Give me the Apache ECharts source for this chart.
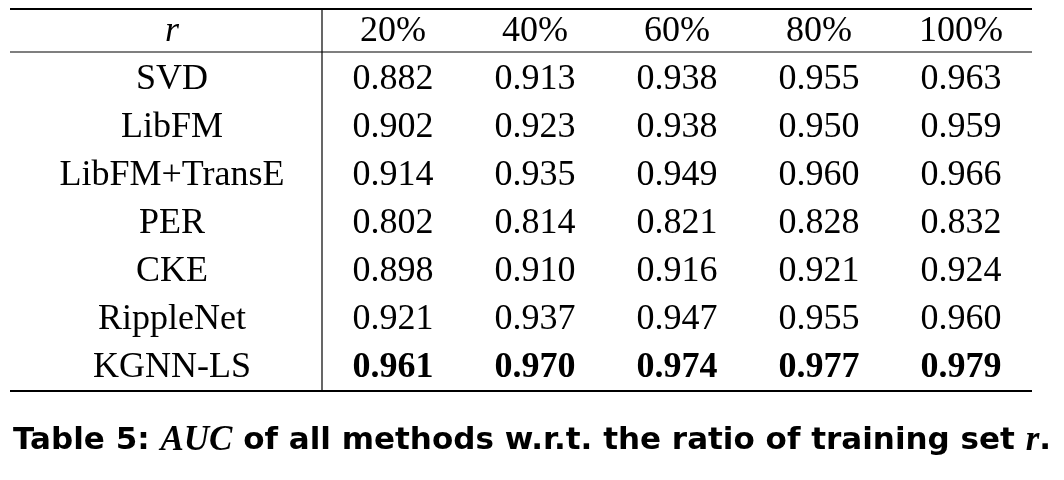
<!DOCTYPE html>
<html><head><meta charset="utf-8">
<script src="https://cdn.jsdelivr.net/npm/echarts@6/dist/echarts.min.js"></script>
<style>html,body{margin:0;background:#fff}#c{width:1064px;height:480px}</style>
</head><body><div id="c"></div>
<script>
const header = ['r', '20%', '40%', '60%', '80%', '100%'];
const methods = ['SVD', 'LibFM', 'LibFM+TransE', 'PER', 'CKE', 'RippleNet', 'KGNN-LS'];
const values = [
  ['0.882', '0.913', '0.938', '0.955', '0.963'],
  ['0.902', '0.923', '0.938', '0.950', '0.959'],
  ['0.914', '0.935', '0.949', '0.960', '0.966'],
  ['0.802', '0.814', '0.821', '0.828', '0.832'],
  ['0.898', '0.910', '0.916', '0.921', '0.924'],
  ['0.921', '0.937', '0.947', '0.955', '0.960'],
  ['0.961', '0.970', '0.974', '0.977', '0.979']
];
const boldRow = 'KGNN-LS';

const rowCats = ['header'].concat(methods);
const colOffsets = [162, 383, 525, 667, 809, 951];
const FONT = '"Liberation Serif", "DejaVu Serif", serif';

const data = [];
for (let r = 0; r < rowCats.length; r++)
  for (let c = 0; c < header.length; c++) data.push([c, rowCats[r]]);

function cellText(c, r) {
  if (r === 0) return header[c];
  return c === 0 ? methods[r - 1] : values[r - 1][c - 1];
}

const chart = echarts.init(document.getElementById('c'));
chart.setOption({
  backgroundColor: '#fff',
  animation: false,
  grid: { left: 10, right: 32, top: 8, bottom: 88 },
  xAxis: { type: 'value', min: 0, max: 1, show: false },
  yAxis: { type: 'category', data: rowCats, inverse: true, show: false },
  title: {
    left: 'center', top: 418,
    text: '{b|Table 5: }{i|AUC}{b| of all methods w.r.t. the ratio of training set }{i|r}{b|.}',
    textStyle: {
      rich: {
        b: { fontFamily: '"DejaVu Sans", sans-serif', fontWeight: 'bold', fontSize: 31, color: '#000' },
        i: { fontFamily: FONT, fontStyle: 'italic', fontSize: 35, color: '#000' }
      }
    }
  },
  series: [{
    type: 'custom',
    data: data,
    renderItem: function (params, api) {
      const c = api.value(0);
      const rIdx = params.dataIndex / header.length | 0;
      const cs = params.coordSys;
      const y = api.coord([0, api.value(1)])[1];
      const band = api.size([0, 1])[1];
      const children = [{
        type: 'text',
        style: {
          x: cs.x + colOffsets[c], y: y,
          text: cellText(c, rIdx),
          textAlign: 'center', textVerticalAlign: 'middle',
          font: ((rIdx > 0 && methods[rIdx - 1] === boldRow && c > 0) ? 'bold ' : '') +
                ((rIdx === 0 && c === 0) ? 'italic ' : '') + '36px ' + FONT,
          fill: '#000'
        }
      }];
      if (params.dataIndex === 0) {
        const top = cs.y, bot = cs.y + cs.height, left = cs.x, right = cs.x + cs.width;
        const hb = top + band - 4;
        children.push(
          { type: 'line', shape: { x1: left, y1: top + 1, x2: right, y2: top + 1 }, style: { stroke: '#000', lineWidth: 2 } },
          { type: 'line', shape: { x1: left, y1: hb, x2: right, y2: hb }, style: { stroke: '#000', lineWidth: 1.2 } },
          { type: 'line', shape: { x1: left, y1: bot - 1, x2: right, y2: bot - 1 }, style: { stroke: '#000', lineWidth: 2 } },
          { type: 'line', shape: { x1: left + 312, y1: top, x2: left + 312, y2: bot }, style: { stroke: '#000', lineWidth: 1.2 } }
        );
      }
      return { type: 'group', children: children };
    }
  }]
});
</script></body></html>
